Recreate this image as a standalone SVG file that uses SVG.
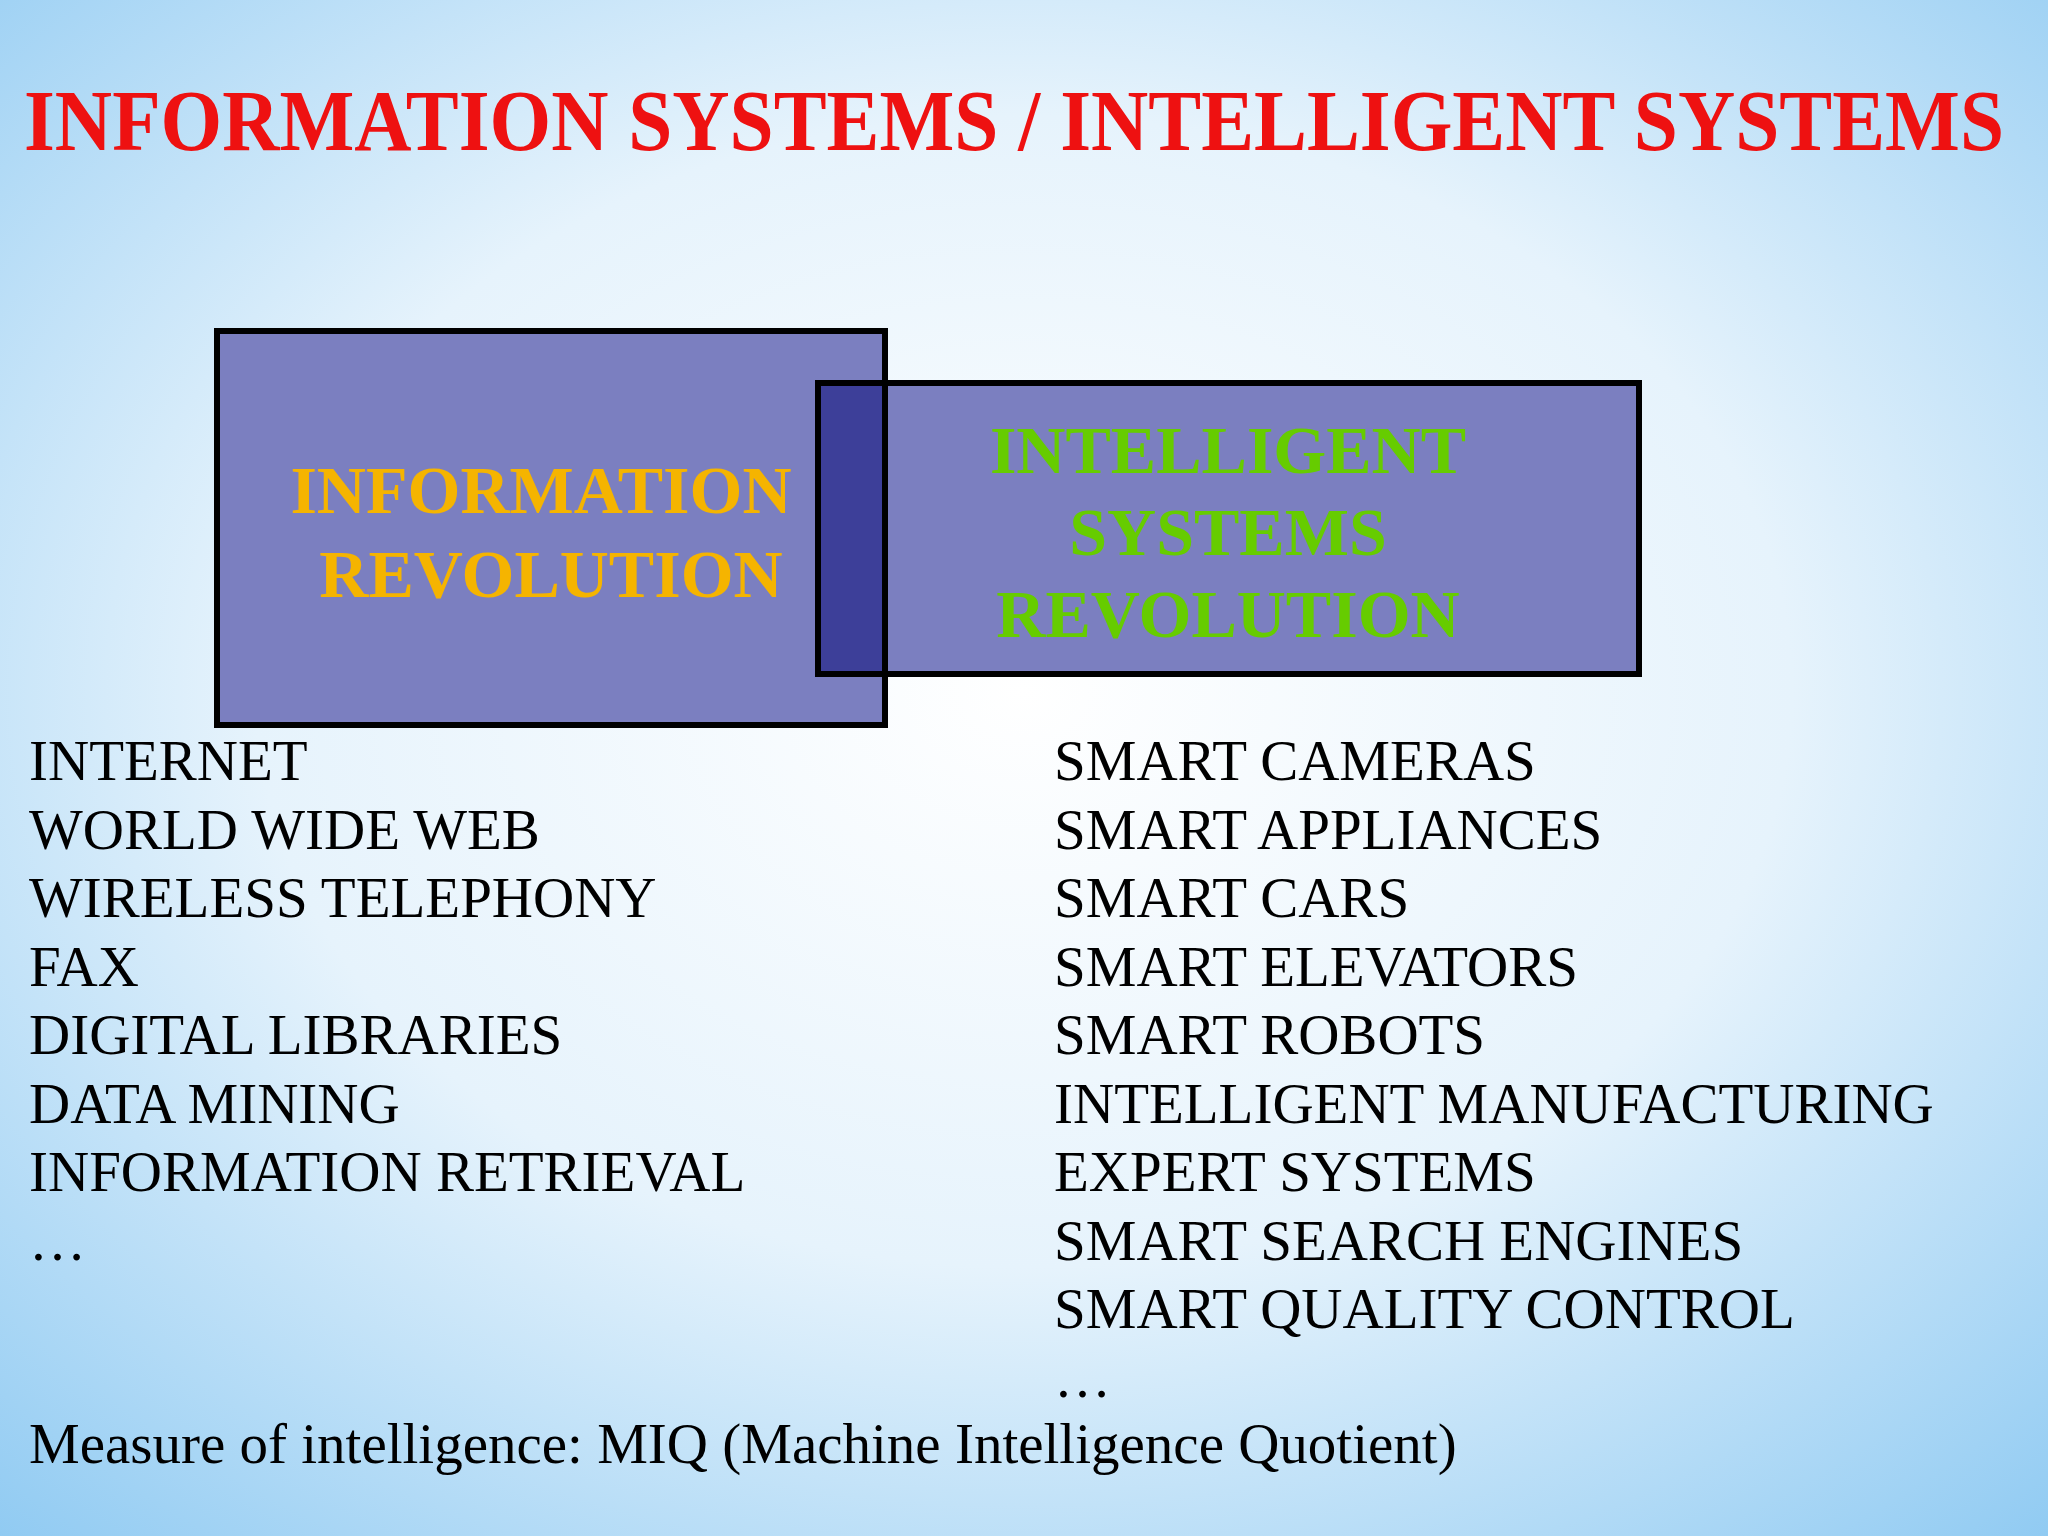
<svg xmlns="http://www.w3.org/2000/svg" width="2048" height="1536" viewBox="0 0 2048 1536">
<defs>
<radialGradient id="bg" cx="0.5" cy="0.45" r="0.75">
<stop offset="0" stop-color="#ffffff"/>
<stop offset="0.5" stop-color="#e6f3fc"/>
<stop offset="1" stop-color="#8fcaf2"/>
</radialGradient>
<style>
.t{font-family:"Liberation Serif",serif;}
.title{font-weight:bold;font-size:86px;fill:#ee1111;}
.bx{fill:#7b7fc0;stroke:#000;stroke-width:6;}
.big{font-weight:bold;font-size:68px;text-anchor:middle;}
.li{font-size:57px;fill:#000;}
</style>
</defs>
<rect width="2048" height="1536" fill="url(#bg)"/>
<g id="title">
<text class="t title" x="24" y="150" textLength="1980" lengthAdjust="spacingAndGlyphs">INFORMATION SYSTEMS / INTELLIGENT SYSTEMS</text>
</g>
<g id="info-box">
<rect class="bx" x="217" y="331" width="668" height="394"/>
</g>
<g id="intel-box">
<rect class="bx" x="818" y="383" width="821" height="291"/>
<rect x="821" y="386" width="61" height="285" fill="#3d3f99"/>
<path d="M885 331 V725 M818 383 V674 M818 383 H885 M818 674 H885" stroke="#000" stroke-width="6" fill="none"/>
</g>
<g id="labels">
<text class="t big" x="541" y="513" fill="#f5b400">INFORMATION</text>
<text class="t big" x="551" y="597" fill="#f5b400">REVOLUTION</text>
<text class="t big" x="1228" y="473" fill="#66cc00">INTELLIGENT</text>
<text class="t big" x="1228" y="555" fill="#66cc00">SYSTEMS</text>
<text class="t big" x="1228" y="637" fill="#66cc00">REVOLUTION</text>
</g>
<g id="left-list">
<text class="t li" x="29" y="780">INTERNET</text>
<text class="t li" x="29" y="849">WORLD WIDE WEB</text>
<text class="t li" x="29" y="917">WIRELESS TELEPHONY</text>
<text class="t li" x="29" y="986">FAX</text>
<text class="t li" x="29" y="1054">DIGITAL LIBRARIES</text>
<text class="t li" x="29" y="1123">DATA MINING</text>
<text class="t li" x="29" y="1191">INFORMATION RETRIEVAL</text>
<text class="t li" x="29" y="1260">…</text>
</g>
<g id="right-list">
<text class="t li" x="1054" y="780">SMART CAMERAS</text>
<text class="t li" x="1054" y="849">SMART APPLIANCES</text>
<text class="t li" x="1054" y="917">SMART CARS</text>
<text class="t li" x="1054" y="986">SMART ELEVATORS</text>
<text class="t li" x="1054" y="1054">SMART ROBOTS</text>
<text class="t li" x="1054" y="1123">INTELLIGENT MANUFACTURING</text>
<text class="t li" x="1054" y="1191">EXPERT SYSTEMS</text>
<text class="t li" x="1054" y="1260">SMART SEARCH ENGINES</text>
<text class="t li" x="1054" y="1328">SMART QUALITY CONTROL</text>
<text class="t li" x="1054" y="1397">…</text>
</g>
<g id="footer">
<text class="t li" x="29" y="1463">Measure of intelligence: MIQ (Machine Intelligence Quotient)</text>
</g>
</svg>
